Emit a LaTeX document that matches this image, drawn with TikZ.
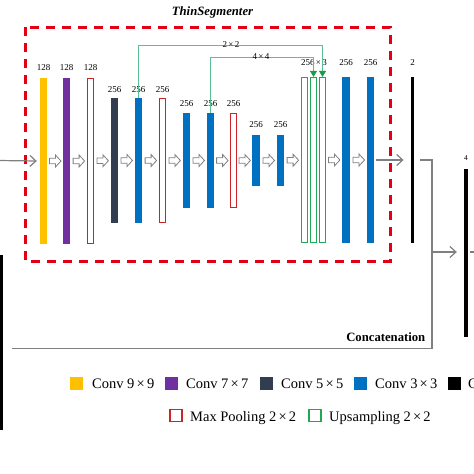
\documentclass[tikz,border=0pt]{standalone}
\usepackage{fontspec}
\setmainfont{Liberation Serif}
\usetikzlibrary{arrows.meta,calc}
\definecolor{cyellow}{RGB}{255,192,0}
\definecolor{cpurple}{RGB}{112,48,160}
\definecolor{cnavy}{RGB}{50,62,79}
\definecolor{cblue}{RGB}{0,112,192}
\definecolor{cred}{RGB}{205,35,40}
\definecolor{cgreen}{RGB}{30,170,85}
\definecolor{cdash}{RGB}{228,0,18}
\definecolor{cgray}{RGB}{128,128,128}
\definecolor{cskip}{RGB}{90,190,150}
\definecolor{ctip}{RGB}{20,160,70}
\newcommand{\X}{\kern0.15em×\kern0.15em}
\begin{document}
\begin{tikzpicture}[x=1pt,y=-1pt,
  bar/.style={rectangle,inner sep=0pt,minimum width=7pt,draw=none},
  fbar/.style={bar,fill=#1},
  pool/.style={bar,draw=cred,line width=1.3pt,fill=white,minimum width=5.7pt},
  ups/.style={bar,draw=cgreen,line width=1.2pt,fill=white,minimum width=5.8pt},
  lab/.style={font=\fontsize{9}{10}\selectfont,inner sep=0pt},
  conn/.style={draw=cgray,line width=1.2pt,-{Straight Barb[length=6pt,width=11pt]}},
  gline/.style={draw=cgray,line width=1.2pt},
  skip/.style={draw=cskip,line width=0.9pt,-{Triangle[length=6pt,width=7pt,color=ctip]}},
  sq/.style={rectangle,inner sep=0pt,minimum size=13pt},
  sqo/.style={rectangle,inner sep=0pt,minimum size=11.8pt,line width=1.3pt,fill=white},
  leg/.style={font=\fontsize{14.5}{16}\selectfont,inner sep=0pt,anchor=base west},
  blk/.pic={\draw[cgray,fill=white,line width=0.8pt] (-5.5,-2.8) -- (0.5,-2.8) -- (0.5,-6) -- (6,0) -- (0.5,6) -- (0.5,2.8) -- (-5.5,2.8) -- cycle;}
]
\useasboundingbox (0,0) rectangle (474,474);
\fill[white] (0,0) rectangle (474,474);

% title and dashed box
\node[font=\bfseries\itshape\fontsize{12.7}{14}\selectfont,inner sep=0pt] (title) at (212.5,12.5) {ThinSegmenter};
\draw[cdash,line width=3pt,dash pattern=on 9pt off 7pt] (25,27) rectangle (390,261);

% bars
\node[fbar=cyellow,minimum height=166pt] (b1) at (43.5,161) {};
\node[fbar=cpurple,minimum height=166pt] (b2) at (66.5,161) {};
\node[pool,minimum height=165pt] (b3) at (90.5,161) {};
\node[fbar=cnavy,minimum height=125pt] (b4) at (114.5,160.5) {};
\node[fbar=cblue,minimum height=125pt] (b5) at (138.5,160.5) {};
\node[pool,minimum height=124pt] (b6) at (162.5,160.5) {};
\node[fbar=cblue,minimum height=95pt] (b7) at (186.5,160.5) {};
\node[fbar=cblue,minimum height=95pt] (b8) at (210.5,160.5) {};
\node[pool,minimum height=94pt] (b9) at (233.5,160.5) {};
\node[fbar=cblue,minimum height=51pt,minimum width=8pt] (b10) at (256,160.5) {};
\node[fbar=cblue,minimum height=51pt] (b11) at (280.5,160.5) {};
\node[ups,minimum height=165pt] (b12) at (304.5,160) {};
\node[ups,minimum height=165pt] (b13) at (313.5,160) {};
\node[ups,minimum height=165pt] (b14) at (322.5,160) {};
\node[fbar=cblue,minimum height=166pt,minimum width=8pt] (b15) at (346,160) {};
\node[fbar=cblue,minimum height=166pt] (b16) at (370.5,160) {};
\node[fbar=black,minimum height=166pt,minimum width=3.5pt] (b17) at (412.5,160) {};
\node[fbar=black,minimum height=168pt,minimum width=4pt] (b18) at (466,253) {};
\node[fbar=black,minimum height=175pt,minimum width=3.5pt] (b19) at (1.5,342.5) {};

% bar labels
\coordinate (y1) at (0,67.3);
\coordinate (y2) at (0,89.3);
\coordinate (y3) at (0,103.3);
\coordinate (y4) at (0,124.5);
\coordinate (y5) at (0,63);
\foreach \b in {b1,b2,b3} \node[lab] at (\b.north |- y1) {128};
\foreach \b in {b4,b5,b6} \node[lab] at (\b.north |- y2) {256};
\foreach \b in {b7,b8,b9} \node[lab] at (\b.north |- y3) {256};
\foreach \b in {b10,b11} \node[lab] at (\b.north |- y4) {256};
\foreach \b in {b15,b16} \node[lab] at (\b.north |- y5) {256};
\node[lab] (l17) at (b17.north |- y5) {2};
\node[lab] (l12) at (314,62.5) {256\X3};
\node[lab,font=\fontsize{7.5}{9}\selectfont] (l18) at (466,158) {4};

% block arrows
\foreach \a/\b in {b1/b2,b2/b3,b3/b4,b4/b5,b5/b6,b6/b7,b7/b8,b8/b9,b9/b10,b10/b11,b11/b12,b14/b15,b15/b16}
  \pic at ($(\a.east)!0.5!(\b.west)$) {blk};

% skip connections
\coordinate (h1) at (0,45);
\coordinate (h2) at (0,57);
\draw[skip] (b5.north) |- (b14.north |- h1) -- (b14.north);
\draw[skip] (b8.north) |- (b13.north |- h2) -- (b13.north);
\node[lab] (s1) at (231,45) {2\X2};
\node[lab] (s2) at (261,57) {4\X4};

% gray connectors
\coordinate (inL) at (-2,160.5);
\draw[conn] (inL) -- ([xshift=-3pt]b1.west);
\draw[conn] ([xshift=2pt]b16.east) -- ([xshift=-7pt]b17.west);
\coordinate (j1) at (432,160);
\coordinate (j2) at (432,252);
\coordinate (j3) at (432,348.5);
\draw[gline] ([xshift=6pt]b17.east |- j1) -- (j1) -- (j3) -- ([xshift=9pt]b19.east |- j3);
\draw[conn] (j2) -- ([xshift=-7pt]b18.west |- j2);
\coordinate (outR) at (477,252);
\draw[gline] ([xshift=2pt]b18.east |- j2) -- (outR);
\node[font=\bfseries\fontsize{12.7}{14}\selectfont,inner sep=0pt,anchor=east] (cat) at (425.5,337) {Concatenation};

% legend
\node[sq,fill=cyellow] (k1) at (76.5,383) {};
\node[leg] (t1) at (92,388.5) {Conv 9\X9};
\node[sq,fill=cpurple] (k2) at (171.5,383) {};
\node[leg] (t2) at (186,388.5) {Conv 7\X7};
\node[sq,fill=cnavy] (k3) at (266,383) {};
\node[leg] (t3) at (281,388.5) {Conv 5\X5};
\node[sq,fill=cblue] (k4) at (360,383) {};
\node[leg] (t4) at (375,388.5) {Conv 3\X3};
\node[sq,fill=black] (k5) at (454.5,383) {};
\node[leg] (t5) at (468,388.5) {C};
\node[sqo,draw=cred] (k6) at (176,415.5) {};
\node[leg] (t6) at (190,421.5) {Max Pooling 2\X2};
\node[sqo,draw=cgreen] (k7) at (315,415.5) {};
\node[leg] (t7) at (329,421.5) {Upsampling 2\X2};
\end{tikzpicture}
\end{document}
